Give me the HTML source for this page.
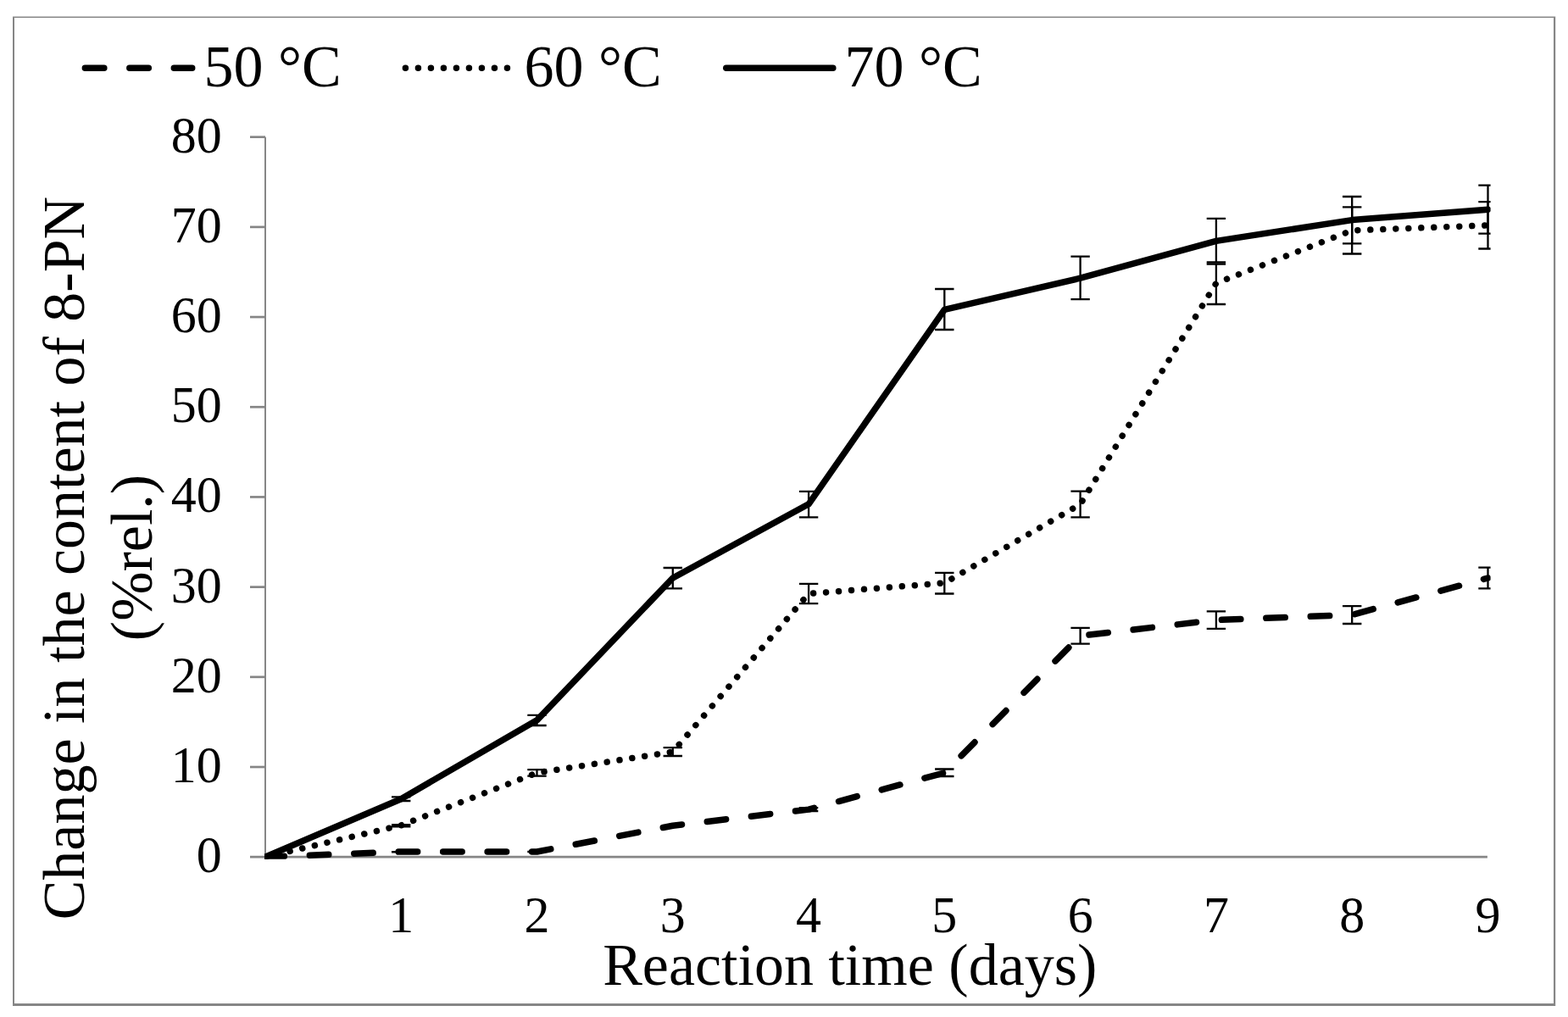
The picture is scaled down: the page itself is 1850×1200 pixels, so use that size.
<!DOCTYPE html>
<html lang="en">
<head>
<meta charset="utf-8">
<title>Change in the content of 8-PN vs reaction time</title>
<style>
html,body{margin:0;padding:0;background:#fff;}
body{width:1850px;height:1200px;overflow:hidden;font-family:"Liberation Serif",serif;}
svg{display:block;}
</style>
</head>
<body>
<svg width="1850" height="1200" viewBox="0 0 1850 1200">
<rect width="1850" height="1200" fill="#fff"/>
<defs><clipPath id="plot"><rect x="312.2" y="100" width="1446.4" height="913.8"/></clipPath></defs>
<path fill="#868686" fill-rule="evenodd" d="M15.0 19.6H1835.2V1187.0H15.0ZM17.0 21.1V1184.0H1833.0V21.1Z"/>
<g stroke="#868686" stroke-width="2.7" fill="none">
<path d="M313.0 161.68V1011.20" stroke-width="2"/>
<path d="M295.0 1011.20H1754.9"/>
<path d="M295.0 905.01H313.0"/>
<path d="M295.0 798.82H313.0"/>
<path d="M295.0 692.63H313.0"/>
<path d="M295.0 586.44H313.0"/>
<path d="M295.0 480.25H313.0"/>
<path d="M295.0 374.06H313.0"/>
<path d="M295.0 267.87H313.0"/>
<path d="M295.0 161.68H313.0"/>
</g>
<g font-family="'Liberation Serif', serif" font-size="60" fill="#000">
<text transform="translate(261.7 1029.10) scale(1 1.035)" text-anchor="end">0</text>
<text transform="translate(261.7 922.91) scale(1 1.035)" text-anchor="end">10</text>
<text transform="translate(261.7 816.72) scale(1 1.035)" text-anchor="end">20</text>
<text transform="translate(261.7 710.53) scale(1 1.035)" text-anchor="end">30</text>
<text transform="translate(261.7 604.34) scale(1 1.035)" text-anchor="end">40</text>
<text transform="translate(261.7 498.15) scale(1 1.035)" text-anchor="end">50</text>
<text transform="translate(261.7 391.96) scale(1 1.035)" text-anchor="end">60</text>
<text transform="translate(261.7 285.77) scale(1 1.035)" text-anchor="end">70</text>
<text transform="translate(261.7 179.58) scale(1 1.035)" text-anchor="end">80</text>
<text transform="translate(473.19 1099.8) scale(1 1.035)" text-anchor="middle">1</text>
<text transform="translate(633.48 1099.8) scale(1 1.035)" text-anchor="middle">2</text>
<text transform="translate(793.77 1099.8) scale(1 1.035)" text-anchor="middle">3</text>
<text transform="translate(954.06 1099.8) scale(1 1.035)" text-anchor="middle">4</text>
<text transform="translate(1114.35 1099.8) scale(1 1.035)" text-anchor="middle">5</text>
<text transform="translate(1274.64 1099.8) scale(1 1.035)" text-anchor="middle">6</text>
<text transform="translate(1434.93 1099.8) scale(1 1.035)" text-anchor="middle">7</text>
<text transform="translate(1595.22 1099.8) scale(1 1.035)" text-anchor="middle">8</text>
<text transform="translate(1755.51 1099.8) scale(1 1.035)" text-anchor="middle">9</text>
</g>
<g font-family="'Liberation Serif', serif" font-size="70" fill="#000" text-anchor="middle">
<text x="1002.7" y="1162.2">Reaction time (days)</text>
<text transform="translate(98.7 658.6) rotate(-90)">Change in the content of 8-PN</text>
<text transform="translate(179.2 658) rotate(-90)">(%rel.)</text>
</g>
<g font-family="'Liberation Serif', serif" font-size="70" fill="#000">
<text x="240.6" y="102.4">50 °C</text>
<text x="618.6" y="102.4">60 °C</text>
<text x="996.6" y="102.4">70 °C</text>
</g>
<g fill="none" stroke="#000" stroke-width="7.5" stroke-linecap="round" stroke-linejoin="round">
<path d="M100.35 80.2H226.7" stroke-dasharray="22.47 30"/>
<path d="M478.4 80.2H600" stroke-dasharray="0.01 14.994"/>
<path d="M856.8 80.2H982.8"/>
</g>
<g clip-path="url(#plot)">
<g fill="none" stroke="#000" stroke-width="2.3">
<path d="M462.0 1005.1H484.4M473.2 1005.1V1005.3M462.0 1005.3H484.4"/>
<path d="M622.3 1005.0H644.7M633.5 1005.0V1005.1M622.3 1005.1H644.7"/>
<path d="M942.9 953.2H965.3M954.1 953.2V957.0M942.9 957.0H965.3"/>
<path d="M1103.1 907.5H1125.5M1114.3 907.5V916.0M1103.1 916.0H1125.5"/>
<path d="M1263.4 740.8H1285.8M1274.6 740.8V759.7M1263.4 759.7H1285.8"/>
<path d="M1423.7 721.3H1446.1M1434.9 721.3V741.9M1423.7 741.9H1446.1"/>
<path d="M1584.0 715.1H1606.4M1595.2 715.1V736.0M1584.0 736.0H1606.4"/>
<path d="M1744.3 669.7H1766.7M1755.5 669.7V694.3M1744.3 694.3H1766.7"/>
<path d="M462.0 973.1H484.4M473.2 973.1V975.3M462.0 975.3H484.4"/>
<path d="M622.3 908.1H644.7M633.5 908.1V915.7M622.3 915.7H644.7"/>
<path d="M782.6 882.2H805.0M793.8 882.2V892.0M782.6 892.0H805.0"/>
<path d="M942.9 688.9H965.3M954.1 688.9V712.2M942.9 712.2H965.3"/>
<path d="M1103.1 675.8H1125.5M1114.3 675.8V700.5M1103.1 700.5H1125.5"/>
<path d="M1263.4 579.6H1285.8M1274.6 579.6V610.4M1263.4 610.4H1285.8"/>
<path d="M1423.7 311.7H1446.1M1434.9 311.7V359.0M1423.7 359.0H1446.1"/>
<path d="M1584.0 244.4H1606.4M1595.2 244.4V299.5M1584.0 299.5H1606.4"/>
<path d="M1744.3 238.2H1766.7M1755.5 238.2V293.5M1744.3 293.5H1766.7"/>
<path d="M462.0 940.4H484.4M473.2 940.4V945.0M462.0 945.0H484.4"/>
<path d="M622.3 843.8H644.7M633.5 843.8V856.0M622.3 856.0H644.7"/>
<path d="M782.6 670.0H805.0M793.8 670.0V694.3M782.6 694.3H805.0"/>
<path d="M942.9 579.8H965.3M954.1 579.8V610.3M942.9 610.3H965.3"/>
<path d="M1103.1 341.0H1125.5M1114.3 341.0V389.0M1103.1 389.0H1125.5"/>
<path d="M1263.4 302.7H1285.8M1274.6 302.7V353.1M1263.4 353.1H1285.8"/>
<path d="M1423.7 257.8H1446.1M1434.9 257.8V309.5M1423.7 309.5H1446.1"/>
<path d="M1584.0 232.0H1606.4M1595.2 232.0V287.3M1584.0 287.3H1606.4"/>
<path d="M1744.3 218.7H1766.7M1755.5 218.7V275.7M1744.3 275.7H1766.7"/>
</g>
<g fill="none" stroke="#000" stroke-width="7.5" stroke-linecap="round" stroke-linejoin="round">
<polyline points="312.9,1011.2 473.2,1005.0 633.5,1005.0 793.8,974.3 954.1,955.1 1114.3,911.8 1274.6,750.2 1434.9,731.6 1595.2,725.5 1755.5,682.0" stroke-dasharray="22.47 30" stroke-dashoffset="0"/>
<polyline points="312.9,1011.2 473.2,973.9 633.5,911.9 793.8,887.1 954.1,700.5 1114.3,687.9 1274.6,595.0 1434.9,334.1 1595.2,271.9 1755.5,265.9" stroke-dasharray="0.01 14.994" stroke-dashoffset="0"/>
<polyline points="312.9,1011.2 473.2,942.7 633.5,849.8 793.8,682.0 954.1,594.8 1114.3,365.3 1274.6,328.2 1434.9,284.4 1595.2,259.6 1755.5,247.2"/>
</g>
</g>
</svg>
</body>
</html>
